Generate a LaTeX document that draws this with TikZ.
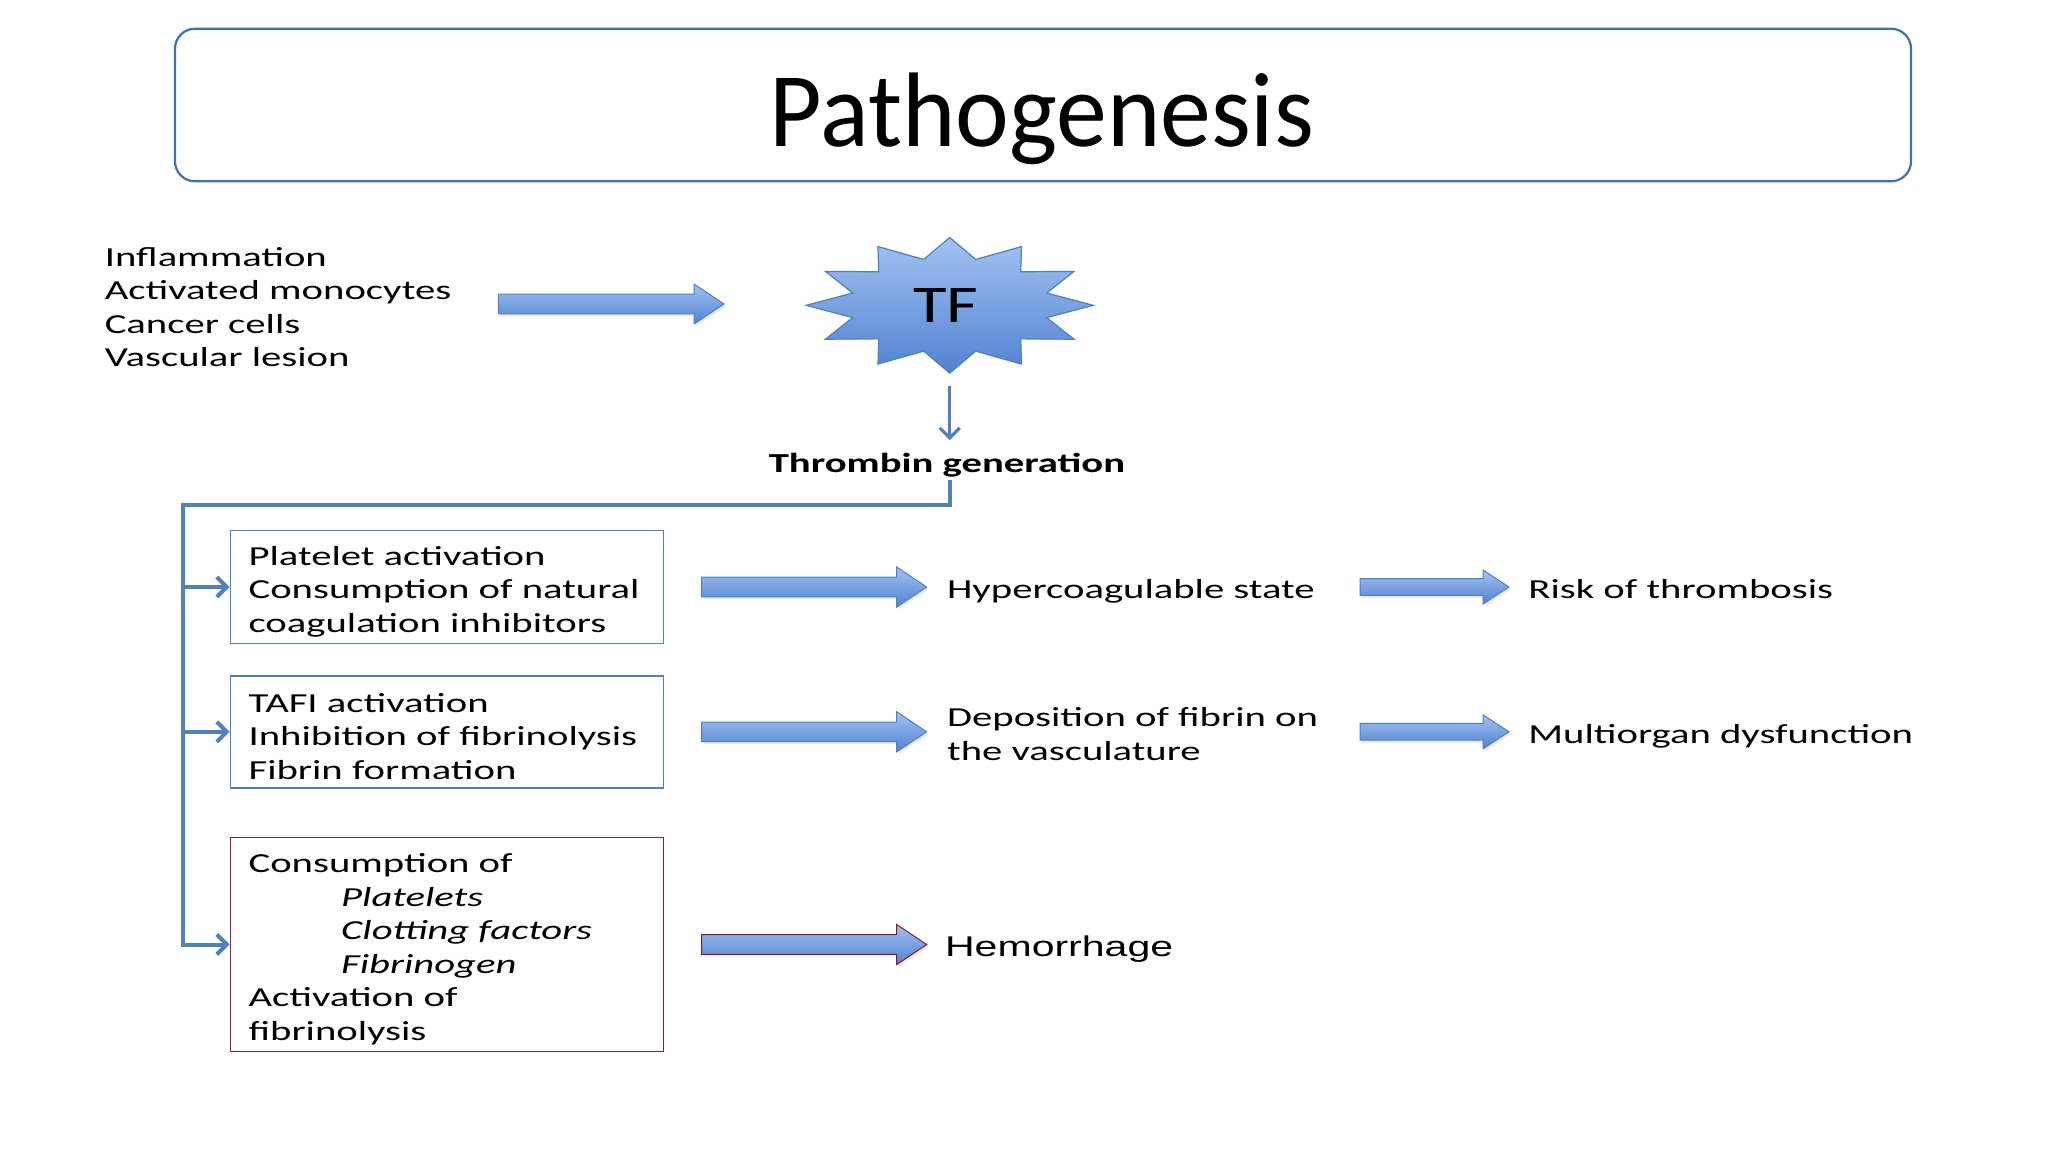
\documentclass[tikz,border=0pt]{standalone}
\usepackage{fontspec}
\setmainfont{Carlito}[FakeStretch=1.48]
\newfontfamily\titlefont{Carlito}[FakeStretch=0.96]
\newfontfamily\tffont{Carlito}[FakeStretch=1.3]
\newfontfamily\hemfont{Liberation Sans}[FakeStretch=1.44]
\usetikzlibrary{positioning,calc,shadows,arrows.meta}

\definecolor{slideblue}{RGB}{79,129,189}
\definecolor{titleblue}{RGB}{65,113,170}
\definecolor{shadetop}{RGB}{163,194,242}
\definecolor{shadebot}{RGB}{80,130,208}
\definecolor{boxred}{RGB}{150,30,45}
\definecolor{arrowred}{RGB}{140,25,40}

% fat arrow: style, start, end, half shaft, half head, head length
\newcommand{\fatarrow}[6][]{%
  \path[fat,#1] let \p1=#2, \p2=#3 in
    (\x1,\y1+#4) -- (\x2-#6,\y1+#4) -- (\x2-#6,\y1+#5) -- (\x2,\y1)
    -- (\x2-#6,\y1-#5) -- (\x2-#6,\y1-#4) -- (\x1,\y1-#4) -- cycle;}

\tikzset{
  txt/.style={font=\fontsize{13.75}{16.75}\selectfont, inner sep=0pt, align=left},
  stepbox/.style={txt, draw=slideblue, line width=0.7pt, inner xsep=9.15pt,
    text width=198.2pt, execute at begin node={\rule{0pt}{14pt}}},
  redbox/.style={stepbox, draw=boxred},
  fat/.style={draw=slideblue, line width=0.5pt, top color=shadetop,
    bottom color=shadebot,
    drop shadow={opacity=0.18, shadow xshift=0.8pt, shadow yshift=-1.2pt}},
  spine/.style={draw=slideblue, line width=2pt,
    -{Straight Barb[length=5pt,width=10pt]}},
  tfstar/.style={draw=slideblue, line width=0.6pt, top color=shadetop,
    bottom color=shadebot},
}

\begin{document}
\begin{tikzpicture}[x=0.5pt, y=-0.5pt]
\useasboundingbox (0,0) rectangle (2048,1152);

\def\xa{104.4}
\def\xb{229.6}
\def\xc{946.7}
\def\xd{1528}

\def\ya{587}
\def\yb{731.8}
\def\yc{944.5}

% title
\node (titlebox) [draw=titleblue, line width=1.1pt, rounded corners=10pt,
  minimum width=868pt, minimum height=76.3pt] at (1043,105) {};
\node (title) [anchor=base, inner sep=0pt,
  font=\titlefont\fontsize{53}{53}\selectfont] at (1042,146) {Pathogenesis};

% causes and TF
\node (causes) [txt, anchor=west] at (\xa,307)
  {Inflammation\\Activated monocytes\\Cancer cells\\Vascular lesion};

\coordinate (tfc) at (949.7,305.3);
\filldraw[tfstar] ([shift={(0:143.5 and 67.8)}]tfc)
  \foreach \a [evaluate=\a as \r using {mod(\a,30)==0 ? 1 : 0.7}]
    in {15,30,...,345} { -- ([shift={(\a:{143.5*\r} and {67.8*\r})}]tfc) }
  -- cycle;
\node (tf) [inner sep=0pt, font=\tffont\fontsize{26.5}{26.5}\selectfont]
  at (946,305) {TF};

\coordinate (a0s) at (498.3,304);
\coordinate (a0e) at (724,304);
\fatarrow{(a0s)}{(a0e)}{4.9pt}{10pt}{15pt}

\coordinate (tfbot) at (949.7,386);
\node (thr) [anchor=base, inner sep=1pt, font=\bfseries] at (947,472.8)
  {\fontsize{13.75}{16.75}\selectfont Thrombin generation};
\draw[draw=slideblue, line width=1.6pt,
  -{Straight Barb[length=5pt,width=10pt]}]
  (tfbot) -- ([yshift=5.5pt]tfbot |- thr.north);

% boxes
\node (plt) [stepbox, minimum height=56.75pt, anchor=west] at (\xb,\ya)
  {Platelet activation\\Consumption of natural\\coagulation inhibitors};
\node (tafi) [stepbox, minimum height=56pt, anchor=west] at (\xb,\yb)
  {TAFI activation\\Inhibition of fibrinolysis\\Fibrin formation};
\node (cons) [redbox, minimum height=107pt, anchor=west] at (\xb,\yc)
  {Consumption of\\
   \hspace*{46.3pt}\textit{Platelets}\\
   \hspace*{46.3pt}\textit{Clotting factors}\\
   \hspace*{46.3pt}\textit{Fibrinogen}\\
   Activation of\\fibrinolysis};

% branching
\coordinate (trunk) at (182.6,504.8);
\draw[spine] (thr.south -| tfbot) |- (trunk) |- (cons.west);
\draw[spine] (trunk |- plt.west) -- (plt.west);
\draw[spine] (trunk |- tafi.west) -- (tafi.west);

% outcomes
\node (hyper) [txt, anchor=base west] at (\xc,598) {Hypercoagulable state};
\node (risk) [txt, anchor=base west] at (\xd,598) {Risk of thrombosis};
\node (depo) [txt, anchor=west] at (\xc,734)
  {Deposition of fibrin on\\the vasculature};
\node (multi) [txt, anchor=base west] at (\xd,743) {Multiorgan dysfunction};
\node (hem) [anchor=base west, inner sep=0pt,
  font=\hemfont\fontsize{14.25}{16}\selectfont] at (\xc-2,956.7) {Hemorrhage};

\coordinate (a1s) at (701.7,\ya);
\coordinate (a2s) at (701.7,\yb);
\coordinate (a3s) at (701.7,\yc);
\coordinate (b1s) at (1360,\ya);
\coordinate (b2s) at (1360,\yb);

\fatarrow{(a1s)}{([xshift=-10pt]hyper.west |- a1s)}{4.9pt}{10pt}{15pt}
\fatarrow{(a2s)}{([xshift=-10pt]depo.west |- a2s)}{4.9pt}{10pt}{15pt}
\fatarrow[draw=arrowred]{(a3s)}{([xshift=-9pt]hem.west |- a3s)}{4.9pt}{10pt}{15pt}
\fatarrow{(b1s)}{([xshift=-9.5pt]risk.west |- b1s)}{4.2pt}{8.5pt}{13pt}
\fatarrow{(b2s)}{([xshift=-9.5pt]multi.west |- b2s)}{4.2pt}{8.5pt}{13pt}

\end{tikzpicture}
\end{document}
